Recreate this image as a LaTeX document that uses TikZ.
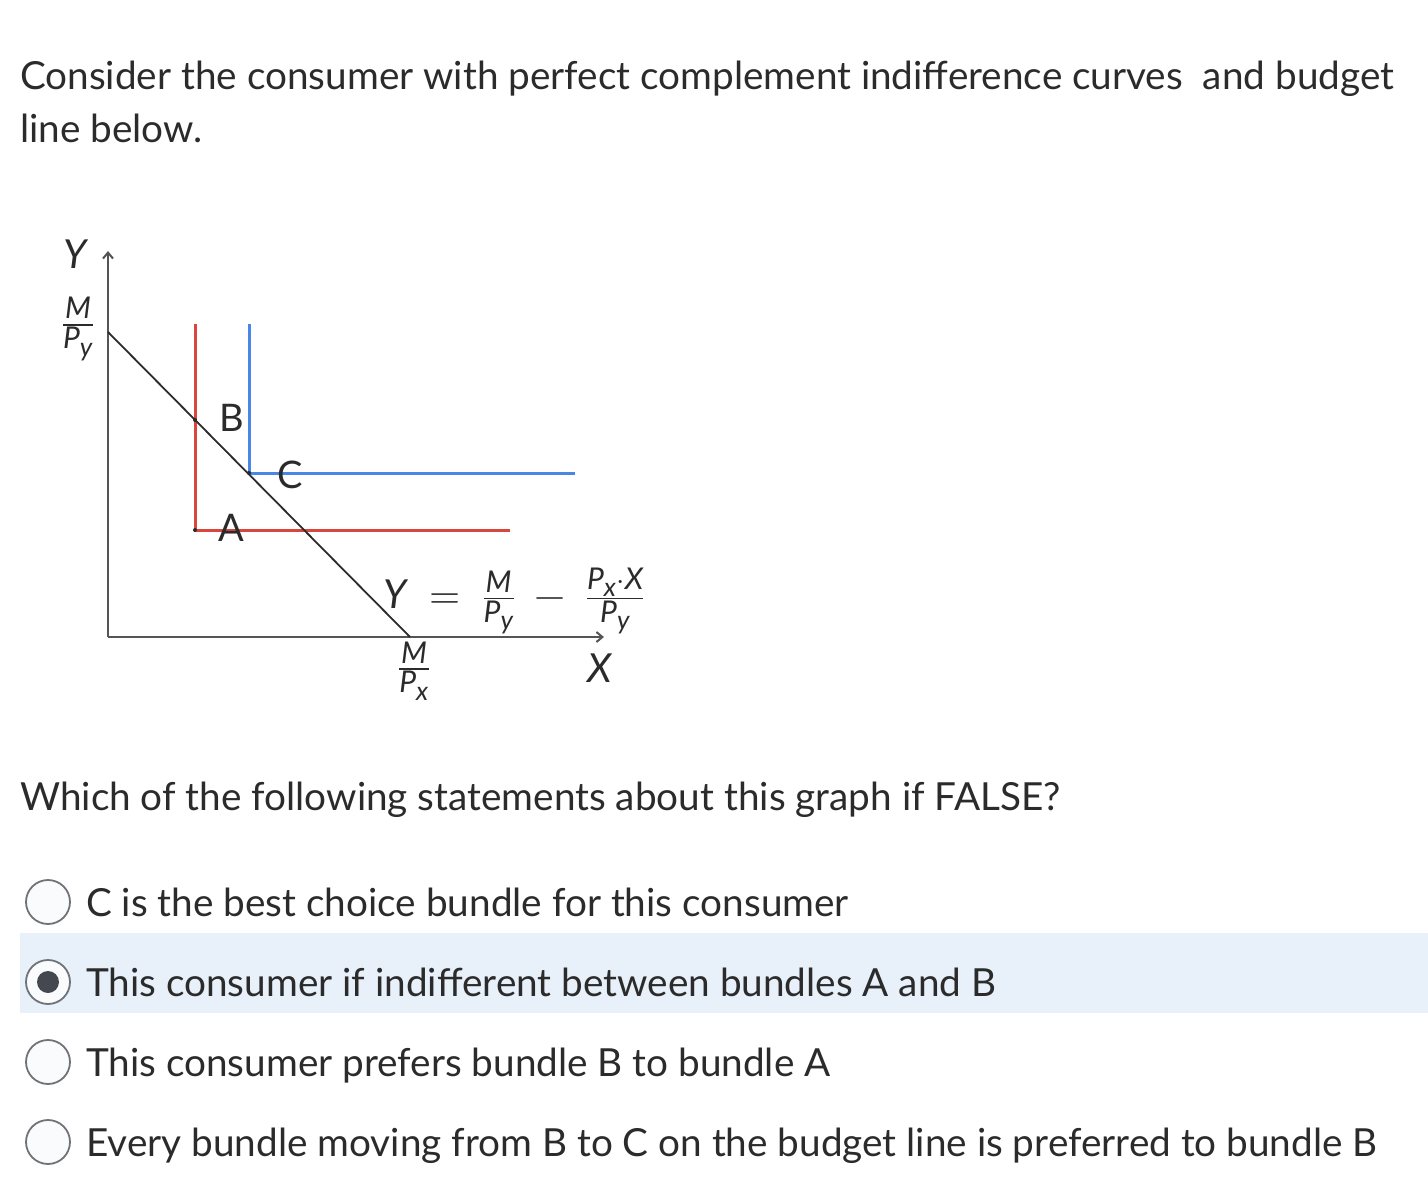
\documentclass[tikz,border=0pt]{standalone}
\usepackage{amsmath}
\usepackage{fontspec}
\usepackage{unicode-math}
\setmainfont{Lato}
\setmathfont{Latin Modern Math}
\usetikzlibrary{arrows.meta}
\DeclareMathSizes{40}{40}{30}{26}

\definecolor{inkgray}{HTML}{2B2B2B}
\definecolor{axisgray}{HTML}{555555}
\definecolor{icred}{HTML}{D9463B}
\definecolor{icblue}{HTML}{4A86E8}
\definecolor{bandblue}{HTML}{E8F0FA}
\definecolor{radiogray}{HTML}{6F7378}
\definecolor{radiofill}{HTML}{F9FBFD}
\definecolor{dotgray}{HTML}{45494F}

\newcommand{\vi}[1]{\textit{#1}}

\begin{document}
\begin{tikzpicture}[x=1pt,y=-1pt,
  axis/.style={draw=axisgray, line width=2pt, -{Straight Barb[length=6pt,width=10pt]}},
  budget/.style={draw=inkgray, line width=1.8pt},
  redcurve/.style={draw=icred, line width=3pt},
  bluecurve/.style={draw=icblue, line width=3pt},
  prompt/.style={anchor=base west, text=inkgray, inner sep=0pt, font=\fontsize{38.7}{46}\selectfont},
  answer/.style={anchor=base west, text=inkgray, inner sep=0pt, font=\fontsize{38.7}{46}\selectfont},
  radio/.style={circle, draw=radiogray, fill=radiofill, line width=1.8pt, minimum size=44pt, inner sep=0pt},
  maths/.style={text=inkgray, inner sep=0pt, font=\fontsize{40}{48}\selectfont},
  bundle/.style={text=inkgray, inner sep=0pt, font=\fontsize{38}{44}\selectfont},
  dot/.style={circle, fill=inkgray, inner sep=0pt, minimum size=4pt}
]
\useasboundingbox (0,0) rectangle (1428,1178);

% question text
\node[prompt] (line1) at (20,89) {Consider the consumer with perfect complement indifference curves\ \ and budget};
\node[prompt] (line2) at (20,142) {line below.};

% graph points
\coordinate (origin) at (108,637);
\coordinate (ytip) at (108,251);
\coordinate (xtip) at (604,637);
\coordinate (yint) at (108,332);
\coordinate (xint) at (410,637);
\coordinate (redtop) at (195,324);
\coordinate (redcorner) at (195,530);
\coordinate (redend) at (510,530);
\coordinate (bluetop) at (249,324);
\coordinate (bluecorner) at (249,473);
\coordinate (blueend) at (575,473);
\coordinate (ptB) at (195,420);

% axes
\draw[axis] (origin) -- (ytip);
\draw[axis] (origin) -- (xtip);

% indifference curves
\draw[redcurve] (redtop) -- (redcorner) -- (redend);
\draw[bluecurve] (bluetop) -- (bluecorner) -- (blueend);

% budget line
\draw[budget] (yint) -- (xint);

\node[dot] (dotB) at (ptB) {};
\node[dot] (dotC) at (bluecorner) {};
\node[dot] (dotA) at (redcorner) {};

% labels
\node[maths] (ylab) at (75,254) {$\vi{Y}$};
\node[maths] (xlab) at (600,668) {$\vi{X}$};
\node[maths] (yintlab) at (78,329) {$\frac{\vi{M}}{\vi{P}_{\vi{y}}}$};
\node[maths] (xintlab) at (414,671) {$\frac{\vi{M}}{\vi{P}_{\vi{x}}}$};
\node[maths] (eqn) at (514,601) {$\vi{Y} \;=\; \frac{\vi{M}}{\vi{P}_{\vi{y}}} \;-\; \frac{\vi{P}_{\vi{x}}{\cdot}\vi{X}}{\vi{P}_{\vi{y}}}$};
\node[bundle] (labB) at (232,418) {B};
\node[bundle] (labC) at (290,475) {C};
\node[bundle] (labA) at (231,528) {A};

% question
\node[prompt] (ask) at (20,810) {Which of the following statements about this graph if FALSE?};

% options
\fill[bandblue] (20,933) rectangle (1428,1013);
\node[radio] (r1) at (48,902) {};
\node[radio] (r2) at (48,982) {};
\node[radio] (r3) at (48,1062) {};
\node[radio] (r4) at (48,1142) {};
\node[circle, fill=dotgray, minimum size=22pt, inner sep=0pt] (r2dot) at (r2.center) {};

\node[answer] (a1) at (86,916) {C is the best choice bundle for this consumer};
\node[answer] (a2) at (86,996) {This consumer if indifferent between bundles A and B};
\node[answer] (a3) at (86,1076) {This consumer prefers bundle B to bundle A};
\node[answer] (a4) at (86,1156) {Every bundle moving from B to C on the budget line is preferred to bundle B};
\end{tikzpicture}
\end{document}
